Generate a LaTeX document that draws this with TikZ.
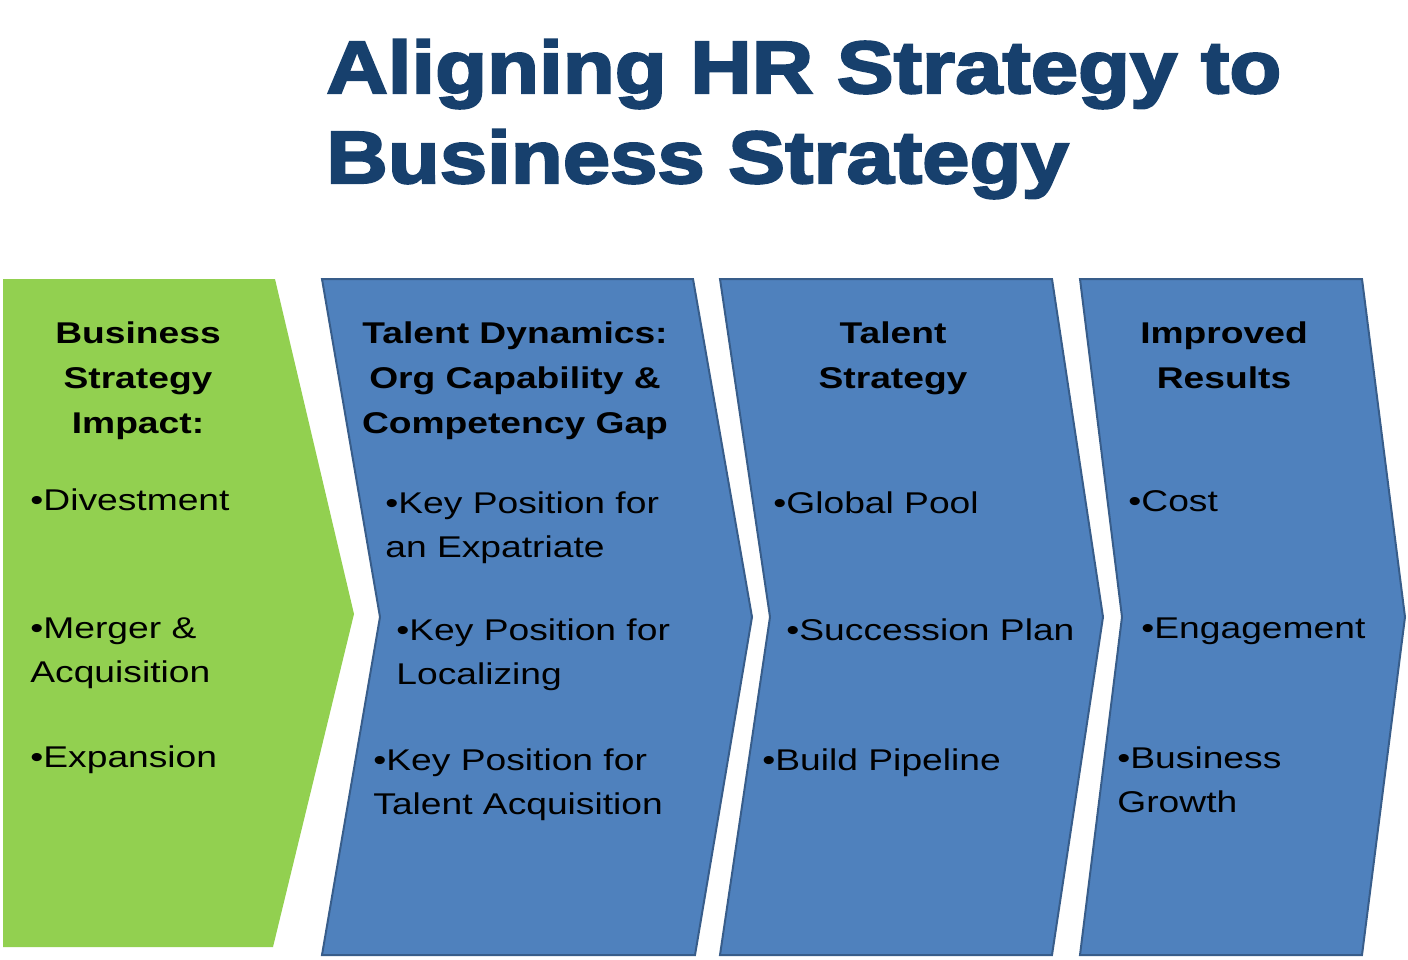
\documentclass[tikz,border=0pt]{standalone}
\usepackage{fontspec}
\setmainfont{Liberation Sans}[FakeStretch=1.24]
\newfontfamily\titlefont{Liberation Sans}[FakeStretch=1.15,FakeBold=3]
\usepackage{tikz}
\definecolor{titleblue}{HTML}{17406D}
\definecolor{leafgreen}{HTML}{92D050}
\definecolor{stepblue}{HTML}{4F81BD}
\definecolor{stepedge}{HTML}{385D8A}

\begin{document}
\begin{tikzpicture}[x=0.5pt, y=-0.5pt,
  chev/.style={fill=stepblue, draw=stepedge, line width=1pt},
  head/.style={anchor=base, inner sep=0, align=center, font=\fontsize{15}{22.5}\selectfont\bfseries},
  item/.style={anchor=base west, inner sep=0, align=left, font=\fontsize{15}{22}\selectfont}]
\useasboundingbox (0,0) rectangle (1408,959);
% title (base = last line)
\node [anchor=base west, inner sep=0, align=left, text=titleblue, font=\titlefont\bfseries\fontsize{37}{45}\selectfont] (title) at (326,183) {Aligning HR Strategy to\\Business Strategy};
% arrows
\fill [leafgreen] (3,279) -- (275,279) -- (354,614) -- (273,947) -- (3,947) -- cycle;
\draw [chev] (322,279) -- (693,279) -- (752,617) -- (695,955) -- (322,955) -- (380,617) -- cycle;
\draw [chev] (720,279) -- (1052,279) -- (1103,617) -- (1052,955) -- (720,955) -- (770,617) -- cycle;
\draw [chev] (1080,279) -- (1362,279) -- (1405,617) -- (1362,955) -- (1080,955) -- (1122,617) -- cycle;
% headings
\node [head] (impact) at (138,433) {Business\\Strategy\\Impact:};
\node [head] (dynamics) at (515,433) {Talent Dynamics:\\Org Capability \&\\Competency Gap};
\node [head] (talent) at (893,388) {Talent\\Strategy};
\node [head] (results) at (1224,388) {Improved\\Results};
% bullets
\node [item] (divest) at (30,510) {•Divestment};
\node [item] (merger) at (30,682) {•Merger \&\\Acquisition};
\node [item] (expand) at (30,767) {•Expansion};
\node [item] (expat) at (385,557) {•Key Position for\\an Expatriate};
\node [item] (local) at (396,684) {•Key Position for\\Localizing};
\node [item] (acquire) at (373,814) {•Key Position for\\Talent Acquisition};
\node [item] (pool) at (773,513) {•Global Pool};
\node [item] (succession) at (786,640) {•Succession Plan};
\node [item] (pipeline) at (762,770) {•Build Pipeline};
\node [item] (cost) at (1128,511) {•Cost};
\node [item] (engage) at (1141,638) {•Engagement};
\node [item] (growth) at (1117,812) {•Business\\Growth};
\end{tikzpicture}
\end{document}
